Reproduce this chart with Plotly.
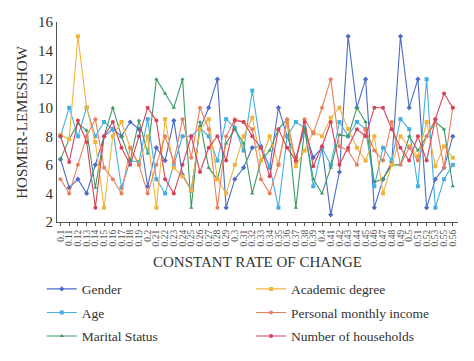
import plotly.graph_objects as go

categories = ["0.1", "0.11", "0.12", "0.13", "0.14", "0.15", "0.16", "0.17", "0.18", "0.19",
              "0.2", "0.21", "0.22", "0.23", "0.24", "0.25", "0.26", "0.27", "0.28", "0.29",
              "0.3", "0.31", "0.32", "0.33", "0.34", "0.35", "0.36", "0.37", "0.38", "0.39",
              "0.4", "0.41", "0.42", "0.43", "0.44", "0.45", "0.46", "0.47", "0.48", "0.49",
              "0.5", "0.51", "0.52", "0.53", "0.55", "0.56"]

gender = [6.4, 4.4, 5.0, 4.0, 6.0, 8.0, 8.5, 8.0, 9.0, 8.5,
          4.5, 7.2, 6.3, 9.1, 5.3, 4.2, 8.5, 10.0, 12.0, 3.0,
          5.0, 5.8, 7.2, 7.3, 5.8, 10.0, 8.0, 6.5, 8.5, 6.5,
          7.2, 2.5, 5.5, 15.0, 10.0, 12.0, 3.0, 5.0, 6.2, 15.0,
          10.0, 12.0, 3.0, 5.0, 5.8, 8.0]
age = [8.0, 10.0, 8.0, 10.0, 8.0, 9.0, 8.5, 4.4, 6.3, 6.2,
       9.2, 5.0, 4.0, 6.0, 8.0, 8.0, 8.6, 8.0, 6.3, 9.2,
       8.6, 7.0, 11.2, 7.2, 5.9, 3.0, 8.0, 9.0, 8.6, 4.5,
       7.2, 6.0, 9.0, 8.0, 9.0, 8.5, 4.5, 7.2, 6.3, 9.2,
       8.5, 4.5, 12.0, 3.0, 5.0, 6.0]
marital = [6.4, 7.8, 8.9, 8.4, 4.4, 8.0, 10.0, 8.0, 6.3, 9.1,
           6.8, 12.0, 11.0, 10.0, 12.0, 3.0, 9.0, 5.8, 5.0, 7.5,
           8.5, 7.5, 4.0, 6.3, 7.0, 8.5, 9.2, 3.0, 8.5, 5.0,
           4.0, 5.8, 8.1, 8.0, 10.0, 9.0, 4.8, 5.0, 6.0, 6.0,
           8.0, 7.0, 8.0, 9.0, 8.5, 4.5]
academic = [8.1, 7.8, 15.0, 10.0, 7.6, 3.0, 8.0, 9.0, 7.2, 6.0,
            8.0, 3.0, 9.2, 5.8, 5.2, 4.2, 8.5, 9.2, 5.0, 4.0,
            6.0, 8.0, 9.3, 6.3, 8.0, 6.0, 9.0, 5.9, 7.0, 8.3,
            8.0, 9.3, 10.0, 8.5, 7.2, 6.3, 8.0, 4.0, 6.0, 8.0,
            7.3, 6.6, 9.0, 5.9, 7.3, 6.5]
income = [5.0, 4.0, 6.0, 8.0, 9.2, 5.8, 5.0, 4.0, 7.2, 6.0,
          4.0, 6.0, 8.0, 6.2, 9.2, 6.5, 10.0, 8.5, 3.0, 8.0,
          9.2, 9.0, 8.5, 5.0, 4.0, 6.0, 9.2, 6.2, 9.2, 8.2,
          10.0, 12.0, 7.3, 7.0, 6.0, 8.5, 7.0, 6.3, 9.0, 6.0,
          7.2, 6.3, 8.0, 9.2, 5.8, 10.0]
households = [8.0, 6.2, 9.1, 7.6, 3.0, 8.0, 9.0, 7.2, 6.0, 8.0,
              10.0, 9.1, 5.0, 4.0, 6.0, 8.0, 5.5, 7.2, 8.0, 6.3,
              9.1, 9.0, 8.0, 7.2, 5.2, 8.5, 7.2, 6.3, 9.0, 5.9,
              7.3, 9.0, 6.0, 7.2, 8.5, 8.0, 10.0, 10.0, 8.5, 7.2,
              6.3, 8.0, 6.3, 9.2, 11.0, 10.0]

series = [
    ("Gender", gender, "#4a6cc8", "diamond", "legend"),
    ("Age", age, "#45aee2", "square", "legend"),
    ("Marital Status", marital, "#3c9a62", "triangle-up", "legend"),
    ("Academic degree", academic, "#f2b33d", "square", "legend2"),
    ("Personal monthly income", income, "#e8805e", "circle", "legend2"),
    ("Number of households", households, "#d8415a", "circle", "legend2"),
]

fig = go.Figure()
for name, vals, color, sym, leg in series:
    fig.add_trace(go.Scatter(
        x=categories, y=vals, name=name, mode="lines+markers",
        line=dict(color=color, width=1.1),
        marker=dict(color=color, size=4, symbol=sym),
        legend=leg, legendgroup=name,
    ))

serif = "Liberation Serif, Times New Roman, serif"
legend_common = dict(
    orientation="v", yanchor="top", xanchor="left",
    font=dict(family=serif, size=13.5, color="#333333"),
    itemwidth=30, tracegroupgap=3, bgcolor="rgba(0,0,0,0)",
)
fig.update_layout(
    width=474, height=361,
    margin=dict(l=49, r=24, t=14, b=147, autoexpand=False),
    plot_bgcolor="white", paper_bgcolor="white",
    font=dict(family=serif, color="#333333"),
    showlegend=True,
    legend=dict(x=-0.038, y=-0.258, **legend_common),
    legend2=dict(x=0.484, y=-0.258, **legend_common),
    xaxis=dict(
        type="category", range=[-0.4, 45.6], automargin=False,
        tickmode="array", tickvals=categories, ticktext=categories,
        showline=True, linecolor="#555555", linewidth=1,
        ticks="outside", ticklen=3, tickcolor="#555555",
        tickangle=-90, tickfont=dict(family=serif, size=9.5, color="#555555"),
        showgrid=False, zeroline=False,
    ),
    yaxis=dict(
        range=[2, 16], dtick=2, tick0=2, automargin=False,
        showline=True, linecolor="#555555", linewidth=1,
        ticks="", tickfont=dict(family=serif, size=15, color="#333333"),
        showgrid=False, zeroline=False,
    ),
    annotations=[
        dict(text="CONSTANT RATE OF CHANGE", xref="paper", yref="paper",
             x=0.5, y=-0.2, xanchor="center", yanchor="middle", showarrow=False,
             font=dict(family=serif, size=15, color="#333333")),
        dict(text="HOSMER-LEMESHOW", xref="paper", yref="paper",
             x=-0.088, y=0.5, xanchor="center", yanchor="middle", showarrow=False,
             textangle=-90, font=dict(family=serif, size=15, color="#333333")),
    ],
)

fig.write_html("out.html")
